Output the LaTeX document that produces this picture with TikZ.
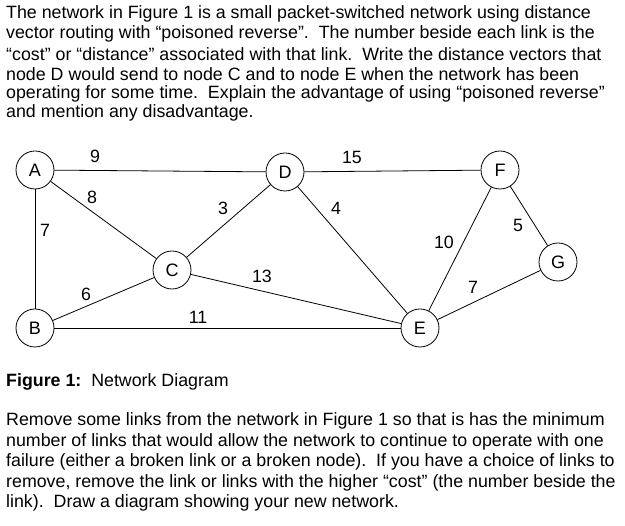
\documentclass[tikz,border=0pt]{standalone}
\usepackage{fontspec}
\setmainfont{Liberation Sans}
\begin{document}
\begin{tikzpicture}[x=1pt,y=-1pt,
  nd/.style={circle,draw,thick,minimum size=38pt,inner sep=0pt,fill=white,font=\fontsize{18}{20}\selectfont},
  ln/.style={anchor=west,inner sep=0pt,font=\fontsize{17.8}{20}\selectfont},
  lb/.style={inner sep=1pt,font=\fontsize{17.8}{20}\selectfont},
  ed/.style={thick}]
\useasboundingbox (0,0) rectangle (625,526);
\foreach \t [count=\i] in {The network in Figure 1 is a small packet-switched network using distance,
  vector routing with “poisoned reverse”.\ \ The number beside each link is the,
  “cost” or “distance” associated with that link.\ \ Write the distance vectors that,
  node D would send to node C and to node E when the network has been,
  operating for some time.\ \ Explain the advantage of using “poisoned reverse”,
  and mention any disadvantage.}
  \node[ln] (p\i) at (6,{-5.5+19.8*\i}) {\t};
\node[nd] (A) at (35,170) {A};
\node[nd] (B) at (35,328) {B};
\node[nd] (C) at (172,270) {C};
\node[nd] (D) at (285,172) {D};
\node[nd] (E) at (420,328) {E};
\node[nd] (F) at (500,170) {F};
\node[nd] (G) at (558,262) {G};
\draw[ed] (A) -- (D); \draw[ed] (D) -- (F); \draw[ed] (A) -- (C); \draw[ed] (A) -- (B);
\draw[ed] (D) -- (C); \draw[ed] (D) -- (E); \draw[ed] (F) -- (E); \draw[ed] (F) -- (G);
\draw[ed] (C) -- (B); \draw[ed] (C) -- (E); \draw[ed] (B) -- (E); \draw[ed] (E) -- (G);
\node[lb] (l1) at (95,156) {9};
\node[lb] (l2) at (352,157) {15};
\node[lb] (l3) at (92,197) {8};
\node[lb] (l4) at (45,230) {7};
\node[lb] (l5) at (223,208) {3};
\node[lb] (l6) at (336,208) {4};
\node[lb] (l7) at (444,242) {10};
\node[lb] (l8) at (518,225) {5};
\node[lb] (l9) at (86,294) {6};
\node[lb] (l10) at (262,276) {13};
\node[lb] (l11) at (198,317) {11};
\node[lb] (l12) at (473,287) {7};
\node[ln] (cap) at (6,382) {\textbf{Figure 1:}\ \ Network Diagram};
\foreach \t [count=\i] in {Remove some links from the network in Figure 1 so that is has the minimum,
  number of links that would allow the network to continue to operate with one,
  failure (either a broken link or a broken node).\ \ If you have a choice of links to,
  remove{,} remove the link or links with the higher “cost” (the number beside the,
  link).\ \ Draw a diagram showing your new network.}
  \node[ln] (q\i) at (6,{400.5+20.5*\i}) {\t};
\end{tikzpicture}
\end{document}
